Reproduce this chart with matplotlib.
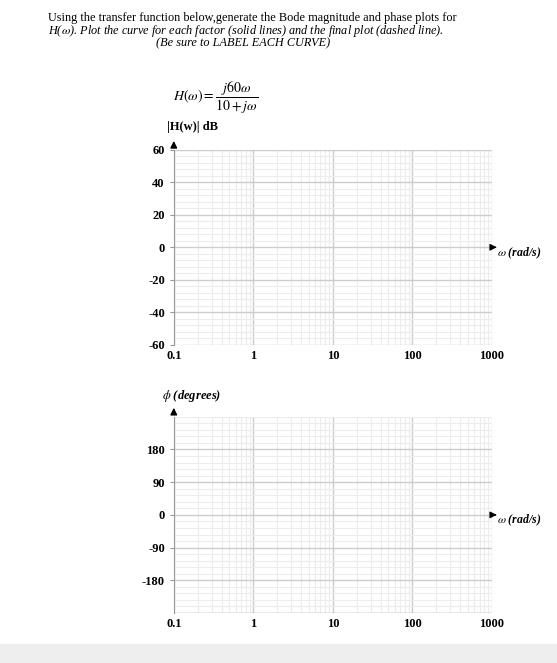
import numpy as np
import matplotlib.pyplot as plt
from matplotlib.patches import Rectangle

plt.rcParams['font.family'] = ['Liberation Serif', 'DejaVu Serif']
plt.rcParams['mathtext.fontset'] = 'stix'
plt.rcParams['axes.unicode_minus'] = False

# Axis data
freq_ticks = [0.1, 1, 10, 100, 1000]
freq_labels = ['0.1', '1', '10', '100', '1000']
mag_ticks = [-60, -40, -20, 0, 20, 40, 60]
phase_ticks = [-180, -90, 0, 90, 180]
phase_lim = (-270, 270)

fig = plt.figure(figsize=(5.57, 6.63), dpi=100)
fig.patches.append(Rectangle((0, 0), 1, 0.028, transform=fig.transFigure,
                             color='#eeeeee', zorder=-1))

fig.text(0.086, 0.973, "Using the transfer function below,generate the Bode magnitude and phase plots for",
         fontsize=8.8, va='center')
fig.text(0.086, 0.953, r"H($\omega$). Plot the curve for each factor (solid lines) and the final plot (dashed line).",
         fontsize=8.8, style='italic', va='center')
fig.text(0.28, 0.934, "(Be sure to LABEL EACH CURVE)", fontsize=8.8, style='italic', va='center')
fig.text(0.31, 0.853, r"$H(\omega) = \dfrac{j60\omega}{10 + j\omega}$", fontsize=10, va='center')
fig.text(0.30, 0.808, "|H(w)| dB", fontsize=9, weight='bold', va='center')
fig.text(0.29, 0.402, r"$\phi$ (degrees)", fontsize=9, weight='bold', style='italic', va='center')


def grid_axes(rect, yticks, ylim, minor_step):
    ax = fig.add_axes(rect)
    ax.set_xscale('log')
    ax.set_xlim(0.1, 1000)
    ax.set_ylim(*ylim)
    ax.set_yticks(yticks)
    ax.set_yticks(np.arange(ylim[0], ylim[1] + 0.1, minor_step), minor=True)
    ax.grid(True, which='major', color='#cccccc', linewidth=1.0)
    ax.grid(True, which='minor', color='#ececec', linewidth=0.8)
    for s in ['top', 'right', 'bottom']:
        ax.spines[s].set_visible(False)
    ax.spines['left'].set_color('#999999')
    ax.tick_params(axis='y', labelsize=9, length=3, color='#999999')
    ax.tick_params(axis='x', which='both', length=0)
    ax.tick_params(axis='y', which='minor', length=0)
    for t in ax.get_yticklabels():
        t.set_fontweight('bold')
    ax.annotate('', xy=(0.1, ylim[1] + (ylim[1] - ylim[0]) * 0.06), xytext=(0.1, ylim[1]),
                xycoords='data', annotation_clip=False,
                arrowprops=dict(arrowstyle='-|>', color='black', lw=1))
    ax.annotate('', xy=(1250, 0), xytext=(1000, 0), annotation_clip=False,
                arrowprops=dict(arrowstyle='-|>', color='black', lw=0.8))
    ax.text(1150, -(ylim[1] - ylim[0]) * 0.03, r'$\omega$ (rad/s)', fontsize=8.5,
            style='italic', weight='bold', va='center', clip_on=False)
    return ax


ax1 = grid_axes([0.312, 0.480, 0.571, 0.294], mag_ticks, (-60, 60), 4)
ax1.set_xticks(freq_ticks)
ax1.set_xticklabels(freq_labels, fontsize=9, fontweight='bold')

ax2 = grid_axes([0.312, 0.0754, 0.571, 0.296], phase_ticks, phase_lim, 18)
ax2.set_xticks(freq_ticks)
ax2.set_xticklabels(freq_labels, fontsize=9, fontweight='bold')
ax2.axhline(-270, color='#999999', lw=1)

plt.savefig('out.png', dpi=100)
